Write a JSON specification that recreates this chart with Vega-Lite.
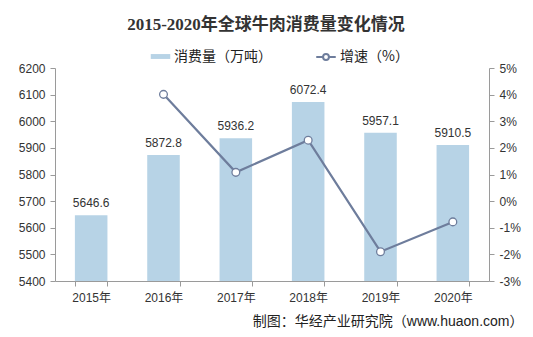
{
  "$schema": "https://vega.github.io/schema/vega-lite/v6.json",
  "width": 434,
  "height": 213,
  "autosize": {"type": "none"},
  "padding": {"left": 55, "top": 68, "right": 44, "bottom": 56},
  "background": "white",
  "config": {
    "view": {"stroke": null},
    "font": "Liberation Sans, Noto Sans CJK SC",
    "axis": {"labelFont": "Liberation Sans, Noto Sans CJK SC", "labelColor": "#333333", "labelFontSize": 12, "domainColor": "#9a9a9a", "tickColor": "#9a9a9a", "grid": false, "labelOverlap": false}
  },
  "title": {
    "text": "2015-2020年全球牛肉消费量变化情况",
    "font": "Liberation Serif, Noto Sans CJK SC",
    "fontSize": 17,
    "fontWeight": "bold",
    "color": "#333333",
    "anchor": "middle",
    "dx": -6,
    "offset": 12
  },
  "data": {
    "values": [
      {"year": "2015年", "consumption": 5646.6, "growth": null},
      {"year": "2016年", "consumption": 5872.8, "growth": 4.01},
      {"year": "2017年", "consumption": 5936.2, "growth": 1.08},
      {"year": "2018年", "consumption": 6072.4, "growth": 2.29},
      {"year": "2019年", "consumption": 5957.1, "growth": -1.90},
      {"year": "2020年", "consumption": 5910.5, "growth": -0.78}
    ]
  },
  "encoding": {
    "x": {
      "field": "year", "type": "nominal", "sort": null,
      "scale": {"paddingInner": 0.55, "paddingOuter": 0.275},
      "axis": {
        "labelAngle": 0, "tickBand": "extent", "tickSize": 5, "labelPadding": 6,
        "title": "制图：华经产业研究院（www.huaon.com）",
        "titleFont": "Liberation Sans, Noto Sans CJK SC",
        "titleFontSize": 14, "titleFontWeight": "normal", "titleColor": "#222222",
        "titleAnchor": null, "titleX": 468, "titleY": 40, "titleAlign": "right", "titleBaseline": "middle"
      }
    }
  },
  "layer": [
    {
      "encoding": {
        "y": {"field": "consumption", "type": "quantitative", "scale": {"domain": [5400, 6200], "nice": false, "zero": false},
          "axis": {"title": null, "values": [5400, 5500, 5600, 5700, 5800, 5900, 6000, 6100, 6200], "format": "d", "tickSize": 5, "labelPadding": 5}}
      },
      "layer": [
        {
          "mark": {"type": "bar", "clip": true},
          "encoding": {
            "fill": {"datum": "消费量（万吨）", "type": "nominal", "scale": {"range": ["#b7d3e6"]},
              "legend": {"orient": "none", "legendX": 95, "legendY": -22, "title": null, "symbolType": "M-1,-0.25H1V0.25H-1Z", "symbolSize": 380, "labelFontSize": 14, "labelFont": "Noto Sans CJK SC", "labelColor": "#222222", "labelOffset": 3}}
          }
        },
        {
          "mark": {"type": "text", "dy": -12, "fontSize": 12, "color": "#333333", "font": "Liberation Sans"},
          "encoding": {
            "text": {"field": "consumption", "type": "quantitative", "format": ".1f"}
          }
        }
      ]
    },
    {
      "mark": {"type": "line", "strokeWidth": 2.2, "point": {"filled": true, "fill": "white", "stroke": "#6e7d9c", "strokeWidth": 1.3, "size": 60}},
      "encoding": {
        "y": {"field": "growth", "type": "quantitative", "scale": {"domain": [-3, 5], "nice": false, "zero": false},
          "axis": {"orient": "right", "title": null, "values": [-3, -2, -1, 0, 1, 2, 3, 4, 5], "labelExpr": "datum.value + '%'", "tickSize": 5, "labelPadding": 5}},
        "stroke": {"datum": "增速（%）", "type": "nominal", "scale": {"range": ["#6e7d9c"]},
          "legend": {"orient": "none", "legendX": 260, "legendY": -22, "title": null, "symbolType": "M-1,0H-0.3M0.3,0H1M-0.3,0A0.3,0.3 0 1,0 0.3,0A0.3,0.3 0 1,0 -0.3,0Z", "symbolSize": 380, "symbolFillColor": "white", "symbolStrokeWidth": 2, "labelFontSize": 14, "labelFont": "Noto Sans CJK SC", "labelColor": "#222222", "labelOffset": 3}}
      }
    }
  ],
  "resolve": {"scale": {"y": "independent", "fill": "independent", "stroke": "independent"}}
}
